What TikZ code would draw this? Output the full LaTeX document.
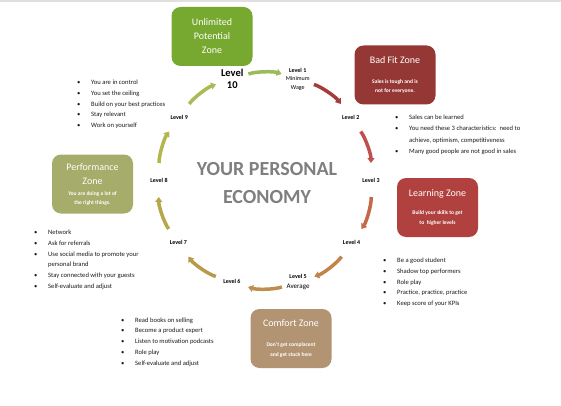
\documentclass[tikz,border=0pt]{standalone}
\usepackage{fontspec}
\setmainfont{Carlito}
\usepackage{xcolor}
\usetikzlibrary{shapes.geometric, arrows.meta, positioning, calc}

\definecolor{potgreen}{HTML}{77A82F}
\definecolor{badred}{HTML}{953735}
\definecolor{learnred}{HTML}{B0413E}
\definecolor{comforttan}{HTML}{B29473}
\definecolor{perfolive}{HTML}{A6AC6A}
\definecolor{titlegray}{HTML}{7F7F7F}
\definecolor{listtext}{HTML}{1A1A1A}
% ring colours, level 10 round to level 9
\definecolor{ringA}{HTML}{9BBB59}
\definecolor{ringB}{HTML}{A33C3A}
\definecolor{ringC}{HTML}{C0504D}
\definecolor{ringD}{HTML}{C4694A}
\definecolor{ringE}{HTML}{C0834A}
\definecolor{ringF}{HTML}{BF8E4E}
\definecolor{ringG}{HTML}{B89A4A}
\definecolor{ringH}{HTML}{B6A74C}
\definecolor{ringI}{HTML}{B3B64C}
\definecolor{ringJ}{HTML}{A7BC55}

\newcommand{\bul}{\makebox[14pt][l]{\textbullet}}
\newcommand{\ind}{\hspace*{14pt}}
\newcommand{\zt}[1]{{\fontsize{10}{14}\selectfont\mdseries #1}}

\begin{document}
\begin{tikzpicture}[x=1pt, y=1pt, >=Stealth]
        \tikzset{
            zonenode/.style={rectangle, rounded corners=9pt, minimum width=81pt, minimum height=59pt, align=center, text=white, inner sep=2pt, font=\fontsize{5.5}{9.5}\selectfont\bfseries},
            listnode/.style={anchor=north west, align=left, inner sep=0pt, text=listtext, font=\fontsize{6.6}{10.7}\selectfont},
            levelnode/.style={align=center, inner sep=0pt, font=\fontsize{6}{8.5}\selectfont\bfseries},
            ringarrow/.style={line width=3.5pt, -{Triangle[length=5pt,width=7pt]}, shorten <=17pt, shorten >=17pt}
        }
        \useasboundingbox (0,0) rectangle (561,405);
        \draw[black!12, line width=1.5pt] (0,404.2) -- (561,404.2);

        \coordinate (c) at (265,225);

        % level labels round the ring
        \node [levelnode] (lv1) at ($(c)+(72:106)$) {Level 1\\{\mdseries Minimum}\\{\mdseries Wage}};
        \node [levelnode] (lv2) at ($(c)+(36:106)$) {Level 2};
        \node [levelnode] (lv3) at ($(c)+(0:106)$) {Level 3};
        \node [levelnode] (lv4) at ($(c)+(-36:107)$) {Level 4};
        \node [levelnode, font=\fontsize{6}{10.5}\selectfont\bfseries] (lv5) at ($(c)+(-72:107)$) {Level 5\\{\mdseries\fontsize{7}{10.5}\selectfont Average}};
        \node [levelnode] (lv6) at ($(c)+(-108:107)$) {Level 6};
        \node [levelnode] (lv7) at ($(c)+(-144:107)$) {Level 7};
        \node [levelnode] (lv8) at ($(c)+(180:106)$) {Level 8};
        \node [levelnode] (lv9) at ($(c)+(144:106)$) {Level 9};
        \node [levelnode, font=\fontsize{10.5}{12}\selectfont\bfseries] (lv10) at ($(c)+(108:106)$) {Level\\10};

        \foreach \a/\b/\col in {10/1/ringA, 1/2/ringB, 2/3/ringC, 3/4/ringD, 4/5/ringE, 5/6/ringF, 6/7/ringG, 7/8/ringH, 8/9/ringI, 9/10/ringJ}
            \draw [ringarrow, \col] (lv\a.center) to[bend left=18] (lv\b.center);

        \node [font=\fontsize{20}{28}\selectfont\bfseries, text=titlegray, align=center] (title) at (267,222) {YOUR PERSONAL\\ECONOMY};

        % zones
        \node [zonenode, fill=potgreen] (unlimited) at (212,368.5) {\zt{Unlimited}\\[4.5pt]\zt{Potential}\\[4.5pt]\zt{Zone}};
        \node [zonenode, fill=badred] (badfit) at (395,330) {\zt{Bad Fit Zone}\\[10.5pt]Sales is tough and is\\not for everyone.};
        \node [zonenode, fill=learnred] (learning) at (437.5,197.5) {\zt{Learning Zone}\\[9pt]Build your skills to get\\to\ \ higher levels};
        \node [zonenode, fill=comforttan] (comfort) at (291,66.5) {\zt{Comfort Zone}\\[11pt]Don't get complacent\\and get stuck here};
        \node [zonenode, fill=perfolive, text depth=0pt] (performance) at (92.5,221) {\zt{Performance}\\[4.5pt]\zt{Zone}\\[1.5pt]You are doing a lot of\\the right things.};

        % bullet lists
        \node [listnode] (list9) at (77,325) {\bul You are in control\\\bul You set the ceiling\\\bul Build on your best practices\\\bul Stay relevant\\\bul Work on yourself};
        \node [listnode, font=\fontsize{6.6}{11.2}\selectfont] (list2) at (395,290) {\bul Sales can be learned\\\bul You need these 3 characteristics:\ \ need to\\\ind achieve, optimism, competitiveness\\\bul Many good people are not good in sales};
        \node [listnode] (list4) at (383,147) {\bul Be a good student\\\bul Shadow top performers\\\bul Role play\\\bul Practice, practice, practice\\\bul Keep score of your KPIs};
        \node [listnode] (list6) at (121,87.5) {\bul Read books on selling\\\bul Become a product expert\\\bul Listen to motivation podcasts\\\bul Role play\\\bul Self-evaluate and adjust};
        \node [listnode] (list7) at (34,175) {\bul Network\\\bul Ask for referrals\\\bul Use social media to promote your\\\ind personal brand\\\bul Stay connected with your guests\\\bul Self-evaluate and adjust};
    \end{tikzpicture}
\end{document}
